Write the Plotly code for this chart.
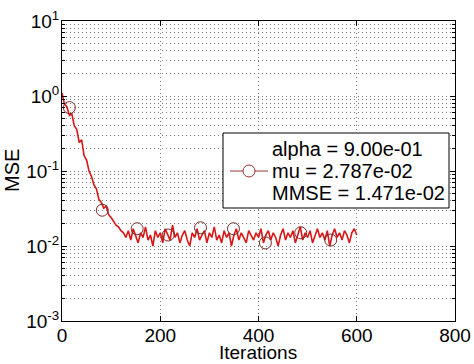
import plotly.graph_objects as go

# ---- data ----
iterations = list(range(0, 601, 5))
mse = [
    1.10, 0.78, 0.72, 0.55, 0.58, 0.40, 0.36, 0.24, 0.26, 0.16,
    0.14, 0.10, 0.085, 0.065, 0.058, 0.042, 0.038, 0.032, 0.034, 0.026,
    0.024, 0.021, 0.019, 0.018, 0.016,
    0.015, 0.013, 0.016, 0.012, 0.017, 0.014, 0.011, 0.015, 0.013, 0.018,
    0.012, 0.014, 0.010, 0.016, 0.013, 0.015, 0.011, 0.017, 0.014, 0.012,
    0.019, 0.013, 0.015, 0.011, 0.014, 0.016, 0.012, 0.010, 0.015, 0.013,
    0.017, 0.012, 0.014, 0.016, 0.011, 0.015, 0.013, 0.018, 0.012, 0.014,
    0.011, 0.016, 0.013, 0.015, 0.010, 0.014, 0.017, 0.012, 0.015, 0.013,
    0.011, 0.016, 0.014, 0.012, 0.015, 0.013, 0.017, 0.011, 0.014, 0.016,
    0.012, 0.015, 0.013, 0.010, 0.014, 0.017, 0.012, 0.015, 0.013, 0.016,
    0.011, 0.014, 0.018, 0.012, 0.015, 0.013, 0.016, 0.011, 0.014, 0.017,
    0.013, 0.015, 0.012, 0.016, 0.010, 0.014, 0.017, 0.013, 0.015, 0.012,
    0.016, 0.014, 0.011, 0.015, 0.017, 0.014,
]
marker_iters = [15, 82, 153, 216, 282, 349, 414, 486, 547]
marker_mse = [0.70, 0.030, 0.017, 0.014, 0.0175, 0.017, 0.011, 0.015, 0.012]

legend_labels = ["alpha = 9.00e-01", "mu = 2.787e-02", "MMSE = 1.471e-02"]
x_title = "Iterations"
y_title = "MSE"

x_ticks = [0, 200, 400, 600, 800]
y_decades = [-3, -2, -1, 0, 1]

# ---- layout geometry (pixels) ----
W, H = 474, 364
ML, MR, MT, MB = 62, 19, 21, 43
PW, PH = W - ML - MR, H - MT - MB


def px_x(px):
    return (px - ML) / PW


def px_y(py):
    return (H - MB - py) / PH


# ---- styles ----
FONT = "Liberation Sans, Arial, sans-serif"
LINE_RED = "#d81818"
MARK_COL = "#7a2a2a"
LEG_COL = "#9a3434"
GRID = "#7a7a7a"
DOT = "1px,3px"

fig = go.Figure()

fig.add_trace(go.Scatter(
    x=iterations, y=mse, mode="lines",
    line=dict(color=LINE_RED, width=1.6),
    showlegend=False, hoverinfo="skip", name=legend_labels[1],
))
fig.add_trace(go.Scatter(
    x=marker_iters, y=marker_mse, mode="markers",
    marker=dict(symbol="circle-open", size=12, color=MARK_COL, line=dict(width=1)),
    showlegend=False, hoverinfo="skip",
))

minor_vals = [m * 10 ** d for d in y_decades[:-1] for m in range(2, 10)]

# ---- legend drawn as box + sample + texts ----
shapes = [
    dict(type="rect", xref="paper", yref="paper",
         x0=px_x(223), x1=px_x(449), y0=px_y(208), y1=px_y(133),
         line=dict(color="black", width=1), fillcolor="white", layer="above"),
    dict(type="line", xref="paper", yref="paper",
         x0=px_x(230), x1=px_x(268), y0=px_y(171), y1=px_y(171),
         line=dict(color=LEG_COL, width=1), layer="above"),
    dict(type="circle", xref="paper", yref="paper",
         x0=px_x(243), x1=px_x(255), y0=px_y(177), y1=px_y(165),
         line=dict(color=LEG_COL, width=1), fillcolor="white", layer="above"),
]
annotations = []
for label, row_y in zip(legend_labels, [149, 171, 193]):
    annotations.append(dict(
        text=label, xref="paper", yref="paper",
        x=px_x(270), y=px_y(row_y), xanchor="left", yanchor="middle",
        showarrow=False, font=dict(family=FONT, size=20, color="black"),
    ))
annotations.append(dict(
    text=x_title, xref="paper", yref="paper",
    x=px_x(258), y=px_y(352), xanchor="center", yanchor="middle",
    showarrow=False, font=dict(family=FONT, size=19, color="black"),
))
annotations.append(dict(
    text=y_title, xref="paper", yref="paper",
    x=px_x(12), y=px_y(171), xanchor="center", yanchor="middle",
    textangle=-90, showarrow=False, font=dict(family=FONT, size=20, color="black"),
))

fig.update_layout(
    width=W, height=H,
    margin=dict(l=ML, r=MR, t=MT, b=MB, autoexpand=False),
    paper_bgcolor="white", plot_bgcolor="white",
    font=dict(family=FONT, size=19, color="black"),
    showlegend=False,
    shapes=shapes,
    annotations=annotations,
    xaxis=dict(
        range=[0, 800], tickvals=x_ticks,
        ticktext=[str(v) for v in x_ticks],
        showline=True, linecolor="black", linewidth=1, mirror="ticks",
        ticks="inside", ticklen=5, tickcolor="black",
        showgrid=True, gridcolor=GRID, griddash=DOT, gridwidth=1,
        zeroline=False, tickfont=dict(size=19), automargin=False,
        ticklabelstandoff=-3,
    ),
    yaxis=dict(
        type="log", range=[-3, 1],
        tickvals=[10 ** d for d in y_decades],
        ticktext=["10<sup>%d</sup>" % d for d in y_decades],
        showline=True, linecolor="black", linewidth=1, mirror="ticks",
        ticks="inside", ticklen=5, tickcolor="black",
        showgrid=True, gridcolor=GRID, griddash=DOT, gridwidth=1,
        zeroline=False, tickfont=dict(size=19), automargin=False,
        ticklabelstandoff=-2,
        minor=dict(tickmode="array", tickvals=minor_vals, ticks="inside",
                   ticklen=3, tickcolor="black", showgrid=True,
                   gridcolor=GRID, griddash=DOT, gridwidth=1),
    ),
)

fig.write_html(
    "out.html",
    config={"displayModeBar": False},
    post_script="document.body.style.margin='0';document.body.style.padding='0';",
)
